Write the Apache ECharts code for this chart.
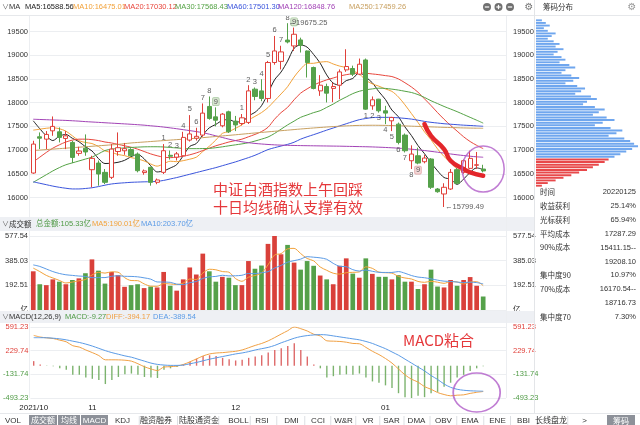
<!DOCTYPE html>
<html>
<head>
<meta charset="utf-8">
<script src="https://cdn.jsdelivr.net/npm/echarts@6/dist/echarts.min.js"></script>
<style>
  html, body { margin: 0; padding: 0; background: #fff; }
  #chart { width: 640px; height: 425px; }
</style>
</head>
<body>
<div id="chart"></div>
<script>
// ---- data ----
const dates = [
  '2021-10-19','2021-10-20','2021-10-21','2021-10-22','2021-10-25','2021-10-26','2021-10-27','2021-10-28','2021-10-29',
  '2021-11-01','2021-11-02','2021-11-03','2021-11-04','2021-11-05','2021-11-08','2021-11-09','2021-11-10','2021-11-11','2021-11-12',
  '2021-11-15','2021-11-16','2021-11-17','2021-11-18','2021-11-19','2021-11-22','2021-11-23','2021-11-24','2021-11-25','2021-11-26',
  '2021-11-29','2021-11-30',
  '2021-12-01','2021-12-02','2021-12-03','2021-12-06','2021-12-07','2021-12-08','2021-12-09','2021-12-10','2021-12-13','2021-12-14',
  '2021-12-15','2021-12-16','2021-12-17','2021-12-20','2021-12-21','2021-12-22','2021-12-23','2021-12-24','2021-12-27','2021-12-28',
  '2021-12-29','2021-12-30','2021-12-31',
  '2022-01-04','2022-01-05','2022-01-06','2022-01-07','2022-01-10','2022-01-11','2022-01-12','2022-01-13','2022-01-14',
  '2022-01-17','2022-01-18','2022-01-19','2022-01-20','2022-01-21','2022-01-24','2022-01-25'
]
const padSlots = ['', ' ', '  ']   // empty room on the right of the last candle
const monthTicks = [[0, '2021/10'], [9, '11'], [31, '12'], [54, '01']]

// [open, close, low, high]
const candles = [
  [16516,17126,16500,17196],[17280,17250,17021,17372],[17230,17330,17020,17400],[17406,17499,17301,17709],
  [17385,17267,17161,17478],[17245,17300,17020,17400],[17161,16845,16726,17196],[16930,16980,16880,17070],
  [17040,16960,16880,17330],[16586,16825,16215,16880],[16726,16495,16249,16780],[16530,16320,16284,16600],
  [16425,17021,16389,17126],[16970,17050,16880,17372],[16985,17030,16900,17150],[17010,16880,16860,17040],
  [16916,16565,16530,16950],[16525,16560,16480,16590],[16636,16320,16249,16650],[16320,16370,16280,16400],
  [16530,16986,16495,17126],[16890,16870,16800,16990],[16850,16920,16780,16960],[16880,17267,16860,17385],
  [17210,17340,17180,17737],[17250,17290,17200,17470],[17316,17779,17280,17983],[17920,17667,17640,18130],
  [17700,17630,17500,17900],[17512,17758,17480,17780],[17807,17385,17360,17830],[17610,17530,17400,17720],
  [17560,17680,17520,17760],[17583,18248,17550,18368],[18284,18130,18050,18320],[18248,18088,18030,18494],
  [18088,18846,18004,18880],[18846,19090,18800,19406],[18870,19070,18700,19200],[19320,19280,19250,19675.25],
  [19196,19442,19090,19583],[19322,19210,19057,19370],[19090,18846,18530,19100],[18741,18299,18280,18760],
  [18248,18368,18143,18580],[18341,18200,18004,18400],[18300,18340,18010,18420],[18368,18648,18073,18700],
  [18691,18762,18650,19126],[18720,18600,18560,18780],[18600,18810,18580,18930],[18900,17863,17850,18930],
  [17933,18060,17850,18130],[18073,17828,17790,18080],[17828,17779,17547,17933],[17617,17688,17400,17700],
  [17547,17161,17120,17580],[17316,16986,16950,17350],[16775,16916,16600,17100],[16880,16726,16700,17050],
  [16754,16832,16720,16900],[16811,16215,16180,16830],[16179,16122,16100,16200],[16074,16215,15799.49,16300],
  [16179,16530,16160,16600],[16586,16300,16280,16620],[16530,16775,16500,16800],[16614,16825,16600,16986],
  [16680,16690,16600,16960],[16600,16560,16530,16690]
]

const ma5 = [17617,17450,17300,17200,17294,17329,17248,17178,17070,16982,16821,16716,16724,16742,16783,16860,16909,16817,16671,16539,
  16560,16621,16693,16883,17077,17137,17319,17469,17541,17625,17644,17594,17597,17720,17795,17935,18198,18480,18645,18875,
  19146,19218,19170,19015,18833,18585,18411,18371,18464,18510,18632,18537,18419,18232,18068,17844,17703,17488,17306,17095,
  16924,16735,16562,16422,16383,16276,16388,16529,16624,16588.56]
const ma10 = [17420,17440,17460,17470,17450,17400,17300,17200,17160,17138,17075,16982,16951,16906,16883,16841,16813,16771,16707,16661,
  16710,16765,16755,16777,16808,16849,16970,17081,17212,17351,17391,17457,17533,17631,17710,17790,17896,18039,18183,18335,
  18540,18708,18825,18830,18854,18865,18815,18770,18740,18672,18608,18474,18395,18348,18289,18238,18120,17954,17769,17582,
  17384,17219,17025,16864,16739,16600,16562,16546,16523,16475.01]
const ma20 = [16750,16850,16950,17040,17110,17170,17210,17230,17230,17220,17200,17170,17150,17120,17090,17060,17020,16970,16920,16880,
  16850,16840,16850,16870,16900,16940,16990,17040,17090,17130,17170,17200,17230,17280,17330,17390,17480,17650,17790,17900,
  18060,18200,18290,18370,18430,18480,18520,18560,18590,18610,18625,18620,18605,18590,18570,18550,18500,18420,18330,18220,
  18080,17940,17790,17650,17520,17400,17280,17180,17100,17030.12]
const ma30 = [16320,16400,16480,16560,16630,16690,16730,16770,16810,16850,16920,16990,17020,17035,17045,17055,17062,17068,17070,17070,
  17065,17055,17045,17035,17030,17030,17032,17035,17050,17068,17090,17110,17130,17155,17190,17230,17275,17350,17440,17530,
  17610,17690,17740,17790,17830,17900,17970,18050,18120,18190,18240,18270,18290,18305,18300,18285,18265,18240,18214,18170,
  18110,18040,17980,17920,17865,17810,17750,17690,17630,17568.43]
const ma60 = [16330,16300,16270,16240,16215,16195,16180,16180,16190,16205,16230,16260,16285,16300,16310,16320,16325,16330,16333,16340,
  16360,16390,16420,16455,16490,16525,16560,16595,16630,16670,16710,16750,16795,16840,16890,16950,17010,17050,17085,17120,
  17165,17230,17280,17325,17372,17420,17465,17510,17555,17600,17640,17665,17685,17690,17690,17688,17680,17668,17653,17630,
  17605,17585,17570,17555,17545,17535,17525,17518,17510,17501.30]
const ma120 = [17650,17645,17640,17635,17630,17625,17618,17610,17600,17592,17584,17576,17568,17560,17552,17544,17535,17525,17512,17500,
  17485,17468,17450,17430,17410,17390,17365,17335,17300,17265,17230,17200,17175,17155,17140,17128,17118,17110,17104,17100,
  17097,17094,17092,17090,17088,17086,17084,17082,17079,17076,17073,17070,17066,17061,17055,17048,17040,17030,17018,17005,
  16990,16973,16955,16936,16918,16900,16885,16870,16858,16848.76]
const ma250 = [16990,17000,17010,17020,17030,17040,17050,17060,17070,17080,17090,17100,17110,17120,17135,17150,17160,17170,17180,17190,
  17200,17210,17220,17230,17240,17250,17262,17274,17286,17298,17310,17322,17335,17348,17360,17372,17384,17396,17408,17420,
  17432,17444,17455,17466,17476,17486,17495,17503,17510,17516,17520,17522,17523,17522,17520,17517,17513,17509,17504,17499,
  17494,17489,17484,17479,17475,17471,17467,17464,17461,17459.26]

// 成交额 (亿)
const amount = [302,201,194,239,221,201,234,247,287,395,307,206,297,272,181,194,201,171,183,176,
  297,189,151,239,332,277,440,302,221,259,252,194,194,382,322,347,516,577.54,435,508,
  370,315,382,345,269,239,201,345,403,284,252,403,282,259,259,239,272,221,221,164,
  201,315,183,176,234,189,234,257,189,105.33]
const amountMa5 = [327,300,270,250,231,211,218,228,238,273,294,288,298,295,253,230,229,204,186,185,
  206,203,199,210,242,238,288,318,314,300,295,246,224,256,269,288,352,429,440,477,
  481,441,402,384,336,310,287,280,291,294,297,337,325,296,291,288,262,250,242,223,
  216,224,217,208,222,219,203,218,221,190.01]
const amountMa10 = [352,340,320,300,285,275,270,265,262,252,253,253,263,267,263,262,259,251,241,219,
  218,216,202,198,213,222,246,259,262,271,266,267,271,285,284,291,299,327,348,373,
  385,397,416,412,407,396,364,341,338,315,304,312,302,294,293,293,300,287,269,257,
  252,243,233,225,223,218,214,217,214,203.70]

// MACD(12,26,9)
const diff = [463,438,425,415,390,365,305,285,240,200,155,90,90,89,84,70,30,-16,-50,-74,
  -20,-15,-5,20,60,104,149,180,194,200,210,220,241,275,310,340,380,430,484,535,
  591.23,565,530,480,455,380,375,370,359,340,335,280,220,170,110,40,-50,-140,-207,-250,
  -320,-360,-410,-440,-460,-450,-445,-423,-407,-394.17]
const dea = [428,428,427,420,410,395,375,355,330,300,265,230,200,175,150,130,100,70,40,20,
  10,5,5,10,30,50,75,100,120,140,160,180,195,215,240,260,280,310,350,385,
  420,445,460,470,475,470,455,440,425,410,395,370,340,300,260,210,160,100,40,-20,
  -80,-150,-210,-280,-330,-360,-375,-383,-387,-389.54]
const macdBar = [70,20,-5,-10,-40,-60,-140,-140,-180,-200,-220,-280,-220,-172,-132,-120,-140,-172,-180,-188,
  -60,-40,-20,20,60,108,148,160,148,120,100,80,92,120,140,160,200,240,268,300,
  342,240,140,20,-40,-180,-160,-140,-132,-140,-120,-180,-240,-260,-300,-340,-420,-480,-493.23,-460,
  -480,-420,-400,-320,-260,-180,-140,-80,-40,-9.27]

// TD sequence counts shown over / under candles
const tdTop = [[20,'1'],[21,'2'],[22,'3'],[23,'4'],[24,'5'],[25,'6'],[26,'7'],[27,'8'],[28,'9'],
  [32,'1'],[33,'2'],[34,'3'],[35,'4'],[36,'5'],[37,'6'],[38,'7'],[39,'8'],[40,'9']]
const tdBottom = [[51,'1'],[52,'2'],[53,'3'],[54,'4'],[55,'5'],[56,'6'],[57,'7'],[58,'8'],[59,'9']]
const extremes = [[39, 19675.25], [63, 15799.49]]

// hand-drawn marks (data coords)
const annotStroke = [[59.5,17547],[61.1,17300],[62.6,17021],[64.2,16775],[65.7,16600],[67.2,16530],[69.2,16459]]
const priceRing = [68.7, 16600]
const macdRing = [68.4, -409]

// 筹码分布: rows from top to bottom
const chipBlue = [6,10,14,8,12,20,16,12,18,24,20,28,22,18,26,30,24,34,40,30,26,36,44,38,30,42,50,46,40,56,
  62,52,48,60,70,64,58,72,80,68,60,76,88,82,74,90,96,100,104,98,92,86,80]
const chipRed = [74,70,64,58,52,44,36,28,20,12,6]
const chipStats = [['时间','20220125'],['收益获利','25.14%'],['光标获利','65.94%'],['平均成本','17287.29'],
  ['90%成本','15411.15--'],['','19208.10'],['集中度90','10.97%'],['70%成本','16170.54--'],['','18716.73'],['集中度70','7.30%']]

const maLegend = [['MA5:16588.56','#222'],['MA10:16475.01','#f2a23a'],['MA20:17030.12','#e8473d'],['MA30:17568.43','#55a346'],
  ['MA60:17501.30','#3b55dc'],['MA120:16848.76','#a243b6'],['MA250:17459.26','#c8a060']]
const tabs = ['VOL','成交额','均线','MACD','KDJ','融资融券','陆股通资金','BOLL','RSI','DMI','CCI','W&R','VR','SAR','DMA','OBV','EMA','ENE','BBI','长线盘龙','>']
const activeTabs = ['成交额','均线','MACD']

// ---- layout / style ----
const FONT = 'Arial, "Liberation Sans", "Noto Sans CJK SC", sans-serif'
const CJK = '"Noto Sans CJK SC", sans-serif'
const RED = '#e0403a'
const GREEN = '#55a14a'
const maColors = maLegend.map(d => d[1])
const maLegendX = [25, 73, 124, 175, 227, 278, 349]
const tabCenters = [13,43,69,94.5,122.5,156,199,238.5,262,291.5,318,343.5,368,391.5,416.5,443.5,470,497.5,523.5,551,584.5]
const tabWidths = [0,28,22,27,0,0,0,0,0,0,0,0,0,0,0,0,0,0,0,0,0]

const cats = dates.concat(padSlots)
const isUp = i => candles[i][1] >= candles[i][0]
const tickMap = Object.fromEntries(monthTicks)

const chartDom = document.getElementById('chart')
const chart = echarts.init(chartDom, null, { renderer: 'canvas' })

const PLOT_L = 30, PLOT_W = 476
const grids = [
  { left: PLOT_L, width: PLOT_W, top: 7.8, height: 213.4 },   // price 20000..15500
  { left: PLOT_L, width: PLOT_W, top: 236, height: 74 },      // amount
  { left: PLOT_L, width: PLOT_W, top: 327, height: 71 },      // macd
  { left: 536, width: 104, top: 19, height: 168 }             // chips
]

const axisText = { color: '#333', fontSize: 7.5, fontFamily: FONT }
const gridLine = { lineStyle: { color: '#eceef1', width: 1 } }

const catAxis = (gridIndex, showLabel) => ({
  type: 'category', gridIndex, data: cats, boundaryGap: true,
  axisLine: { show: false }, axisTick: { show: false }, splitLine: { show: false },
  axisLabel: showLabel ? {
    show: true, interval: 0, margin: 6, color: '#222', fontSize: 8, fontFamily: FONT,
    formatter: (v, idx) => tickMap[idx] || ''
  } : { show: false }
})

const valAxis = (gridIndex, pos, opt) => Object.assign({
  type: 'value', gridIndex, position: pos, scale: true,
  axisLine: { show: false }, axisTick: { show: false },
  splitLine: pos === 'left' ? Object.assign({ show: true }, gridLine) : { show: false },
  axisLabel: Object.assign({ margin: pos === 'left' ? 2 : 7, align: pos === 'left' ? 'right' : 'left' }, axisText)
}, opt)

const priceAxis = pos => {
  const a = valAxis(0, pos, { min: 15500, max: 20000, interval: 500 })
  a.axisLabel.showMinLabel = false
  a.axisLabel.showMaxLabel = false
  a.axisLabel.formatter = v => String(v)
  if (a.splitLine.show) { a.splitLine.showMinLine = false; a.splitLine.showMaxLine = false }
  return a
}
const amountAxis = pos => {
  const a = valAxis(1, pos, { min: 0, max: 577.54, interval: 577.54 / 3 })
  a.axisLabel.formatter = v => (v === 0 ? '亿' : v.toFixed(2))
  return a
}
const macdAxis = pos => {
  const a = valAxis(2, pos, { min: -493.23, max: 591.23, interval: (591.23 + 493.23) / 3 })
  a.axisLabel.formatter = v => v.toFixed(2)
  a.axisLabel.color = v => (v >= 0 ? '#e0403a' : '#4f9a45')
  return a
}

const lineSeries = (name, data, color, xi, yi, extra) => Object.assign({
  name, type: 'line', data, xAxisIndex: xi, yAxisIndex: yi,
  showSymbol: false, symbol: 'none', smooth: 0.3,
  lineStyle: { width: 1, color }, itemStyle: { color }, z: 3, silent: true
}, extra)

const tdLabel = (pos, boxed, top) => ({
  show: true, position: pos, distance: 2, color: '#333', fontSize: 7.5, fontFamily: FONT,
  formatter: p => p.data.text,
  ...(boxed ? {
    backgroundColor: top ? '#d3e4cc' : '#f1cfcf',
    borderColor: top ? '#8fb884' : '#d98989', borderWidth: 0.6, padding: [0, 1, 0, 1], borderRadius: 1
  } : {})
})

const series = [
  {
    name: 'K', type: 'candlestick', xAxisIndex: 0, yAxisIndex: 0, data: candles, barWidth: '72%',
    itemStyle: { color: '#fff', color0: GREEN, borderColor: RED, borderColor0: GREEN, borderWidth: 1 },
    z: 4
  },
  ...maLegend.map((d, k) => lineSeries(d[0].split(':')[0], [ma5, ma10, ma20, ma30, ma60, ma120, ma250][k], maColors[k], 0, 0)),
  {
    type: 'scatter', xAxisIndex: 0, yAxisIndex: 0, symbolSize: 0, z: 6, silent: true,
    data: tdTop.map(([i, t]) => ({ value: [i, candles[i][3]], text: t, label: tdLabel('top', t === '9', true) }))
  },
  {
    type: 'scatter', xAxisIndex: 0, yAxisIndex: 0, symbolSize: 0, z: 6, silent: true,
    data: tdBottom.map(([i, t]) => ({ value: [i, candles[i][2]], text: t, label: tdLabel('bottom', t === '9', false) }))
  },
  {
    type: 'scatter', xAxisIndex: 0, yAxisIndex: 0, symbolSize: 0, z: 6, silent: true,
    data: extremes.map(([i, v]) => ({ value: [i, v] })),
    label: { show: true, position: 'right', distance: 1, color: '#333', fontSize: 7.5, fontFamily: FONT,
      formatter: p => '\u2190' + p.value[1].toFixed(2) }
  },
  lineSeries('annot', annotStroke, '#e3262b', 0, 0, { smooth: 0.5, lineStyle: { width: 4.5, color: '#e3262b', cap: 'round' }, z: 8 }),
  {
    type: 'scatter', xAxisIndex: 0, yAxisIndex: 0, data: [priceRing], symbol: 'circle', symbolSize: [42, 46],
    itemStyle: { color: 'rgba(0,0,0,0)', borderColor: '#b05cc8', borderWidth: 1.6 }, clip: false, z: 9, silent: true
  },

  {
    name: '成交额', type: 'bar', xAxisIndex: 1, yAxisIndex: 2, data: amount, barWidth: '72%',
    itemStyle: { color: p => (isUp(p.dataIndex) ? '#d9403a' : GREEN) }, z: 2
  },
  lineSeries('MA5', amountMa5, '#f2a23a', 1, 2),
  lineSeries('MA10', amountMa10, '#5b9be6', 1, 2),

  {
    name: 'MACD', type: 'bar', xAxisIndex: 2, yAxisIndex: 4, data: macdBar, barWidth: 1.4,
    itemStyle: { color: p => (p.value >= 0 ? '#de6a6a' : '#7cb36e') }, z: 2
  },
  lineSeries('DIFF', diff, '#f0a044', 2, 4),
  lineSeries('DEA', dea, '#5b9be6', 2, 4),
  {
    type: 'scatter', xAxisIndex: 2, yAxisIndex: 4, data: [macdRing], symbol: 'circle', symbolSize: [47, 39],
    itemStyle: { color: 'rgba(0,0,0,0)', borderColor: '#b05cc8', borderWidth: 1.6 }, clip: false, z: 9, silent: true
  },

  {
    type: 'bar', xAxisIndex: 3, yAxisIndex: 6, barWidth: '72%',
    data: chipBlue.map(v => ({ value: v, itemStyle: { color: '#6fa6ee' } }))
      .concat(chipRed.map(v => ({ value: v, itemStyle: { color: '#e8484a' } }))),
    z: 2, silent: true
  }
]

// ---- overlay: headers, legends, table, tabs, notes ----
const txt = (x, y, text, fill, size, align, font) => ({
  type: 'text', x, y, z: 120, silent: true,
  style: { text, fill, fontSize: size, fontFamily: font || FONT, align: align || 'left', verticalAlign: 'middle' }
})
const rect = (x, y, w, h, fill, z) => ({ type: 'rect', z: z || 100, silent: true, shape: { x, y, width: w, height: h }, style: { fill } })
const hline = (x1, x2, y, stroke) => ({ type: 'line', z: 101, silent: true, shape: { x1, y1: y, x2, y2: y }, style: { stroke, lineWidth: 1 } })
const vline = (x, y1, y2, stroke) => ({ type: 'line', z: 101, silent: true, shape: { x1: x, y1, x2: x, y2 }, style: { stroke, lineWidth: 1 } })

const zoomIcon = (cx, plus) => {
  const g = [{ type: 'circle', z: 120, silent: true, shape: { cx, cy: 7, r: 4 }, style: { fill: '#707070' } },
    { type: 'line', z: 121, silent: true, shape: { x1: cx - 2.2, y1: 7, x2: cx + 2.2, y2: 7 }, style: { stroke: '#fff', lineWidth: 1.2 } }]
  if (plus) g.push({ type: 'line', z: 121, silent: true, shape: { x1: cx, y1: 4.8, x2: cx, y2: 9.2 }, style: { stroke: '#fff', lineWidth: 1.2 } })
  return g
}

const graphic = [
  rect(0, 0, 534, 15, '#fff'),
  hline(0, 640, 15.5, '#e6e8eb'),
  vline(534.5, 0, 413, '#e3e5e8'),
  vline(PLOT_L - 0.5, 16, 398, '#eceef1'),
  vline(PLOT_L + PLOT_W + 0.5, 16, 398, '#eceef1'),
  txt(2, 7, '\u2228', '#666', 7),
  txt(9, 7, 'MA', '#333', 7.5),
  ...maLegend.map((d, k) => txt(maLegendX[k], 7, d[0], d[1], 7.5)),
  ...zoomIcon(487, false), ...zoomIcon(498.5, true), ...zoomIcon(510, false),
  txt(529, 7, '\u2699', '#777', 10, 'center', 'DejaVu Sans'),
  txt(543, 7, '筹码分布', '#333', 7.5, 'left', CJK),
  txt(632, 7, '\u2699', '#999', 10, 'center', 'DejaVu Sans'),

  rect(0, 217, 534, 14, '#eef0f4'),
  txt(2, 224, '\u2228', '#666', 7),
  txt(9, 224, '成交额', '#333', 7.5, 'left', CJK),
  txt(36, 224, '总金额:105.33亿', '#4f9a45', 7.5),
  txt(92, 224, 'MA5:190.01亿', '#f2a23a', 7.5),
  txt(141, 224, 'MA10:203.70亿', '#5b9be6', 7.5),

  rect(0, 311, 534, 12, '#eef0f4'),
  txt(2, 317, '\u2228', '#666', 7),
  txt(9, 317, 'MACD(12,26,9)', '#333', 7.5),
  txt(65, 317, 'MACD:-9.27', '#4f9a45', 7.5),
  txt(106, 317, 'DIFF:-394.17', '#f0a044', 7.5),
  txt(153, 317, 'DEA:-389.54', '#5b9be6', 7.5),

  ...chipStats.flatMap(([k, v], r) => [
    txt(540, 192 + r * 13.9, k, '#333', 7.5, 'left', CJK),
    txt(636, 192 + r * 13.9, v, '#333', 7.5, 'right')
  ]),

  { type: 'text', z: 130, silent: true, x: 213, y: 189,
    style: { text: '中证白酒指数上午回踩', fill: '#e5383b', fontSize: 15, fontFamily: CJK, verticalAlign: 'middle' } },
  { type: 'text', z: 130, silent: true, x: 213, y: 207,
    style: { text: '十日均线确认支撑有效', fill: '#e5383b', fontSize: 15, fontFamily: CJK, verticalAlign: 'middle' } },
  { type: 'text', z: 130, silent: true, x: 403, y: 340,
    style: { text: 'MACD粘合', fill: '#e5383b', fontSize: 15, fontFamily: CJK, verticalAlign: 'middle' } },

  hline(0, 640, 413.5, '#e6e8eb'),
  ...tabs.flatMap((t, k) => {
    const out = []
    if (tabWidths[k]) out.push(rect(tabCenters[k] - tabWidths[k] / 2, 415, tabWidths[k], 10, '#8d9199', 110))
    if (k > 0 && !tabWidths[k] && !tabWidths[k - 1]) out.push(vline((tabCenters[k] + tabCenters[k - 1]) / 2, 416, 425, '#dcdfe3'))
    out.push(txt(tabCenters[k], 421, t, activeTabs.includes(t) ? '#fff' : '#333', 8, 'center', FONT))
    return out
  }),
  rect(607, 415, 28, 10, '#8d9199', 110),
  txt(621, 421, '筹码', '#fff', 8, 'center', CJK)
]

const option = {
  animation: false,
  backgroundColor: '#fff',
  textStyle: { fontFamily: FONT },
  grid: grids,
  xAxis: [
    catAxis(0, false), catAxis(1, false), catAxis(2, true),
    { type: 'value', gridIndex: 3, min: 0, max: 106, show: false }
  ],
  yAxis: [
    priceAxis('left'), priceAxis('right'),
    amountAxis('left'), amountAxis('right'),
    macdAxis('left'), macdAxis('right'),
    { type: 'category', gridIndex: 3, inverse: true, show: false,
      data: chipBlue.concat(chipRed).map((_, i) => i) }
  ],
  series,
  graphic
}

chart.setOption(option)
window.addEventListener('resize', () => chart.resize())
</script>
</body>
</html>
